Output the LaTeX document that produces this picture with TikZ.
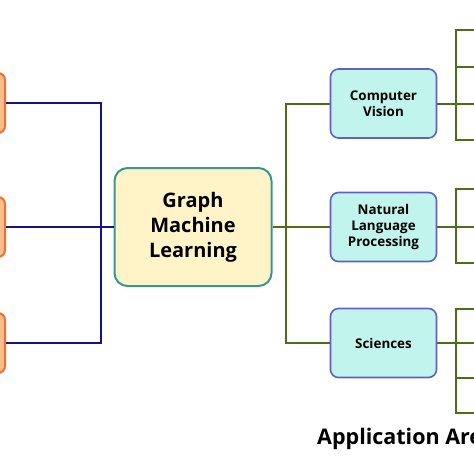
\documentclass[tikz,border=0pt]{standalone}
\usepackage{fontspec}
\setmainfont{Open Sans}
\definecolor{lineblue}{RGB}{20,20,130}
\definecolor{linegreen}{RGB}{76,110,24}
\definecolor{orgdraw}{RGB}{240,112,48}
\definecolor{orgfill}{RGB}{250,190,140}
\definecolor{gmlfill}{RGB}{255,244,200}
\definecolor{gmldraw}{RGB}{58,150,150}
\definecolor{appfill}{RGB}{192,244,236}
\definecolor{appdraw}{RGB}{96,96,200}
\begin{document}
\begin{tikzpicture}[x=1pt,y=-1pt,
  srcbox/.style={draw=orgdraw,fill=orgfill,line width=2pt,rounded corners=7pt,minimum width=66pt,minimum height=60pt,inner sep=0pt},
  gmlbox/.style={draw=gmldraw,fill=gmlfill,line width=2pt,rounded corners=13pt,minimum width=157pt,minimum height=118pt,align=center,font=\fontsize{20}{25}\selectfont\bfseries,inner sep=0pt},
  appbox/.style={draw=appdraw,fill=appfill,line width=1.6pt,rounded corners=8pt,minimum width=106pt,minimum height=69pt,align=center,font=\fontsize{13.4}{15.8}\selectfont\bfseries,inner sep=0pt},
  bl/.style={draw=lineblue,line width=2pt},
  gl/.style={draw=linegreen,line width=2pt}]
\useasboundingbox (0,0) rectangle (474,474);
\clip (0,0) rectangle (474,474);
% source boxes (cut off at left)
\node[srcbox] (s1) at (-28,103) {};
\node[srcbox] (s2) at (-28,227) {};
\node[srcbox] (s3) at (-28,343) {};
% central box
\node[gmlbox] (gml) at (193,227) {Graph\\Machine\\Learning};
% application boxes
\node[appbox] (cv) at (383.5,103.5) {Computer\\Vision};
\node[appbox] (nlp) at (383.5,227) {Natural\\Language\\Processing};
\node[appbox] (sci) at (383.5,343) {Sciences};
% junctions
\coordinate (bj) at (101,227);
\coordinate (gj) at (286,227);
\draw[bl] (s1.east) -| (bj);
\draw[bl] (s3.east) -| (bj);
\draw[bl] (s2.east) -- (gml.west);
\draw[gl] (gml.east) -- (nlp.west);
\draw[gl] (gj) |- (cv.west);
\draw[gl] (gj) |- (sci.west);
% CV branches
\coordinate (cvt) at (456,30);
\coordinate (cvb) at (456,140);
\coordinate (cva) at (480,30);
\coordinate (cvc) at (480,67);
\coordinate (cvd) at (480,103.5);
\coordinate (cve) at (480,140);
\draw[gl] (cv.east) -- (cvd);
\draw[gl] (cva) -- (cvt) -- (cvb) -- (cve);
\draw[gl] (cvt |- cvc) -- (cvc);
% NLP branches
\coordinate (nlt) at (456,189);
\coordinate (nlb) at (456,263);
\coordinate (nla) at (480,189);
\coordinate (nlc) at (480,227);
\coordinate (nld) at (480,263);
\draw[gl] (nlp.east) -- (nlc);
\draw[gl] (nla) -- (nlt) -- (nlb) -- (nld);
% Sciences branches
\coordinate (sct) at (456,309);
\coordinate (scb) at (456,413);
\coordinate (sca) at (480,309);
\coordinate (scc) at (480,343);
\coordinate (scd) at (480,378);
\coordinate (sce) at (480,413);
\draw[gl] (sci.east) -- (scc);
\draw[gl] (sca) -- (sct) -- (scb) -- (sce);
\draw[gl] (sct |- scd) -- (scd);
% title (cut off at the right edge, as in the reference)
\node[anchor=west,font=\fontsize{21.5}{25}\selectfont\bfseries,inner sep=0pt] (title) at (317,439) {Application Areas};
\end{tikzpicture}
\end{document}
